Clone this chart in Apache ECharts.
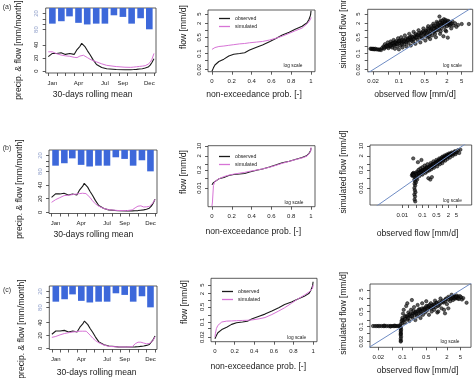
<!DOCTYPE html>
<html><head><meta charset="utf-8">
<script src="https://cdn.jsdelivr.net/npm/echarts@6/dist/echarts.min.js"></script>
<style>html,body{margin:0;padding:0;background:#fff;}#c{width:474px;height:378px;}</style>
</head><body><div id="c"></div>
<script>
// ---------------- data ----------------
const days = [1,15,30,45,60,75,90,100,110,116,122,128,136,145,155,167,185,202,235,265,285,295,305,315,325,335,345,352,358,365];
const obsFlow  = [22,27,27,28,25.5,27,25.5,33,38,42.5,45,37,31,25,17.5,10,5.5,3.5,2.2,2,2,2.2,2.5,3,3.5,4.5,6,9,13,19];
const simFlowA = [29.5,29.5,26.5,24.5,23.3,22.6,21,20.6,23,24.3,24.2,23,20.5,18,16,14,11,8.7,6.8,5.8,5.6,6,6.5,7,7.5,8.2,10.5,13.5,18,27];
const simFlowB = [14.6,18.5,21.5,24.5,25,26,27,27.5,28,27,27.5,26.5,22,17,12.5,9,5.5,3.8,2.6,2.4,3.5,6.5,9,9.5,7.8,8,8.5,10.5,14,19];
const simFlowC = [17,18.5,21,23,24.4,25.4,26.2,26.7,26.7,26.7,26.7,24.5,20.5,16,12,8.5,5,3,2.2,2,2.6,7,9.5,9.5,8.2,7,7.5,8.7,12,18];
const monthMid = [15,46,74,105,135,166,196,227,258,288,319,349];
const precip = [58,49,31,55,61,58,58,27,33,58,38,79];
const monthStart = [1,32,60,91,121,152,182,213,244,274,305,335,365];
const monthLabelDays = [15,105,196,258,349];
const monthLabels = ['Jan','Apr','Jul','Sep','Dec'];
const flowTicks = [0,20,40];
const precipTicks = [20,40,60,80];
const precipLabels = [20,80];

const probs   = [0,0.005,0.015,0.03,0.07,0.12,0.17,0.22,0.28,0.33,0.38,0.45,0.51,0.58,0.65,0.71,0.78,0.84,0.91,0.96,0.98,0.995,1];
const obsFdc  = [0.017,0.019,0.024,0.032,0.045,0.057,0.078,0.093,0.1,0.108,0.14,0.185,0.23,0.32,0.45,0.63,0.82,1.1,1.5,2.1,3.0,4.5,7];
const simFdcA = [0.15,0.155,0.165,0.18,0.2,0.21,0.225,0.24,0.26,0.27,0.29,0.31,0.33,0.38,0.46,0.56,0.74,0.95,1.25,1.9,2.4,3.0,3.6];
const simFdcB = [0.0005,0.001,0.015,0.03,0.045,0.065,0.082,0.098,0.115,0.13,0.155,0.19,0.23,0.3,0.42,0.58,0.8,1.05,1.4,1.9,2.6,4,8];
const simFdcC = [0.02,0.03,0.05,0.07,0.1,0.11,0.112,0.115,0.118,0.12,0.125,0.14,0.16,0.22,0.32,0.45,0.72,1.1,1.7,2.4,2.8,3.5,5];

const ticksA = [0.02,0.05,0.1,0.2,0.5,1,2,5];
const labelsA = [0.02,0.1,0.5,2,5];
const ticksBy = [0.01,0.05,0.2,0.5,2,10];
const labelsBy = [0.01,0.2,2,10];
const ticksBx = [0.01,0.02,0.05,0.1,0.2,0.5,1,2,5];
const labelsBx = [0.01,0.1,0.5,2,5];
const probTicks = [0,0.2,0.4,0.6,0.8,1];

const scatA = [[0.017,0.16],[0.018,0.16],[0.019,0.155],[0.02,0.16],[0.021,0.155],[0.022,0.15],[0.023,0.16],[0.025,0.15],[0.027,0.15],[0.029,0.145],[0.031,0.15],[0.033,0.14],
[0.035,0.17],[0.038,0.2],[0.04,0.16],[0.042,0.25],[0.045,0.19],[0.048,0.22],[0.05,0.3],[0.052,0.17],[0.055,0.24],[0.058,0.2],[0.06,0.33],[0.063,0.27],[0.066,0.18],[0.07,0.22],[0.072,0.38],[0.075,0.3],[0.078,0.16],[0.08,0.25],[0.085,0.34],[0.09,0.2],[0.095,0.45],[0.1,0.28],[0.1,0.15],[0.105,0.36],[0.11,0.22],[0.115,0.5],[0.12,0.3],[0.125,0.18],[0.13,0.4],[0.14,0.25],[0.145,0.6],[0.15,0.33],[0.16,0.2],[0.17,0.45],[0.18,0.28],[0.19,0.7],[0.2,0.38],[0.21,0.22],[0.22,0.55],[0.24,0.32],[0.25,0.85],[0.26,0.45],[0.28,0.26],[0.3,0.62],[0.32,0.38],[0.34,1.0],[0.36,0.5],[0.38,0.3],[0.4,0.75],[0.43,0.45],[0.46,1.2],[0.5,0.6],[0.52,0.36],[0.55,0.9],[0.6,0.5],[0.62,1.5],[0.66,0.75],[0.7,0.42],[0.74,1.1],[0.8,0.6],[0.85,1.9],[0.9,0.85],[0.95,1.3],[1.0,0.5],[1.05,2.3],[1.1,1.0],[1.2,1.6],[1.25,3.9],[1.3,0.7],[1.35,2.6],[1.4,1.2],[1.5,1.9],[1.6,0.55],[1.65,3.0],[1.7,1.4],[1.8,2.2],[1.9,0.9],[2.0,2.6],[2.1,0.48],[2.2,1.7],[2.4,2.1],[2.6,1.2],[2.8,2.4],[3.0,1.6],[3.3,2.0],[3.6,1.4],[4.0,1.7],[5.0,1.86],[7.8,1.86],
[0.045,0.21],[0.055,0.23],[0.065,0.26],[0.075,0.24],[0.085,0.28],[0.095,0.31],[0.11,0.33],[0.12,0.36],[0.135,0.32],[0.15,0.42],[0.17,0.36],[0.19,0.46],[0.21,0.42],[0.23,0.5],[0.27,0.55],[0.29,0.48],[0.33,0.65],[0.37,0.6],[0.42,0.8],[0.47,0.7],[0.53,0.95],[0.58,0.8],[0.65,1.1],[0.72,0.95],[0.78,1.3],[0.88,1.15],[0.98,1.5],[1.08,1.35],[1.15,1.8],[1.3,1.5],[1.45,2.1],[1.6,1.7],[1.75,2.4],[1.95,1.9],[2.3,2.2],[2.5,1.8],
[0.04,0.18],[0.05,0.2],[0.06,0.22],[0.07,0.28],[0.08,0.3],[0.09,0.26],[0.1,0.35],[0.12,0.25],[0.14,0.35],[0.16,0.3],[0.18,0.4],[0.2,0.5],[0.22,0.35],[0.25,0.4],[0.28,0.7],[0.3,0.5],[0.35,0.75],[0.4,0.55],[0.45,0.9],[0.5,0.8],[0.55,0.6],[0.6,1.2],[0.7,0.7],[0.75,1.5],[0.85,0.9],[0.9,1.6],[1.0,1.0],[1.1,2.0],[1.2,1.2],[1.3,2.2],[1.4,1.6],[1.5,2.6],[1.7,1.9],[1.8,2.8],[2.0,1.5],[2.2,2.5],[2.4,1.6],[2.6,2.0],[0.65,0.55],[0.95,0.7],[1.35,0.9],[1.8,1.0]];

const scatB = [[0.04,0.09],[0.042,0.06],[0.04,0.04],[0.043,0.03],[0.041,0.02],[0.044,0.015],[0.04,0.01],[0.042,0.007],[0.045,0.005],[0.04,0.0035],[0.043,0.0025],[0.041,0.0015],[0.044,0.0011],[0.05,0.05],[0.048,0.025],[0.055,0.04],
[0.03,0.08],[0.032,0.1],[0.034,0.07],[0.036,0.12],[0.038,0.09],[0.035,0.11],
[0.035,1.3],[0.06,0.7],[0.09,1.0],[0.2,0.05],[0.25,0.04],[0.3,0.06],
[0.045,0.12],[0.05,0.08],[0.055,0.15],[0.06,0.1],[0.065,0.2],[0.07,0.07],[0.075,0.13],[0.08,0.25],[0.085,0.1],[0.09,0.16],[0.1,0.3],[0.1,0.09],[0.11,0.14],[0.12,0.2],[0.13,0.4],[0.14,0.12],[0.15,0.22],[0.16,0.3],[0.17,0.15],[0.18,0.5],[0.2,0.25],[0.22,0.18],[0.24,0.35],[0.26,0.6],[0.28,0.22],[0.3,0.3],[0.33,0.45],[0.36,0.8],[0.38,0.28],[0.42,0.4],[0.46,0.6],[0.5,1.0],[0.55,0.35],[0.6,0.55],[0.65,0.8],[0.7,1.3],[0.75,0.5],[0.8,0.75],[0.9,1.1],[1.0,1.7],[1.0,0.6],[1.1,0.9],[1.2,1.3],[1.3,2.1],[1.4,0.9],[1.5,1.5],[1.7,2.5],[1.8,1.2],[2.0,1.8],[2.2,3.0],[2.4,1.5],[2.7,2.3],[3.0,3.5],[3.3,2.0],[3.7,2.8],[4.2,4.2],[4.6,2.6],[5.2,3.5],[6.0,5.0],[7.0,3.2],[8.0,5.5],
[0.06,0.12],[0.08,0.14],[0.1,0.17],[0.13,0.22],[0.16,0.24],[0.2,0.3],[0.25,0.4],[0.3,0.45],[0.38,0.5],[0.45,0.65],[0.55,0.75],[0.65,0.95],[0.8,1.1],[1.0,1.2],[1.2,1.6],[1.5,1.9],[1.9,2.3],[2.4,2.6],[3.0,2.8],
[0.05,0.1],[0.07,0.12],[0.09,0.13],[0.11,0.18],[0.12,0.15],[0.14,0.2],[0.17,0.27],[0.19,0.2],[0.22,0.3],[0.27,0.3],[0.32,0.35],[0.35,0.55],[0.4,0.5],[0.5,0.6],[0.6,0.8],[0.7,0.7],[0.85,0.9],[0.9,1.4],[1.1,1.1],[1.3,1.4],[1.6,1.7],[1.8,2.0],[2.1,2.2],[2.6,2.8],[3.3,3.0],[4.0,3.4],[4.8,4.0],[0.033,0.09],[0.037,0.08]];

const scatC = [[0.014,0.105],[0.016,0.105],[0.018,0.105],[0.02,0.105],[0.022,0.105],[0.025,0.105],[0.028,0.105],[0.031,0.105],[0.035,0.105],[0.04,0.105],[0.045,0.105],[0.05,0.105],[0.055,0.105],[0.06,0.105],[0.066,0.105],[0.072,0.105],[0.078,0.105],[0.085,0.105],[0.03,0.11],[0.045,0.1],[0.06,0.11],
[0.09,0.09],[0.09,0.08],[0.092,0.07],[0.09,0.06],[0.091,0.05],[0.09,0.045],[0.09,0.04],[0.092,0.033],[0.09,0.027],[0.091,0.022],[0.09,0.02],
[0.09,0.13],[0.095,0.18],[0.1,0.25],[0.1,0.14],[0.105,0.4],[0.11,0.2],[0.11,0.6],[0.12,0.3],[0.12,0.15],[0.13,0.9],[0.14,0.22],[0.14,1.2],[0.15,0.45],[0.16,0.18],[0.17,0.3],[0.18,0.6],[0.19,1.7],[0.2,0.25],[0.21,0.4],[0.22,0.8],[0.24,0.2],[0.25,0.5],[0.27,0.3],[0.28,1.0],[0.3,0.4],[0.32,0.65],[0.34,0.25],[0.36,0.5],[0.38,1.2],[0.4,0.35],[0.43,0.7],[0.46,0.45],[0.5,1.5],[0.52,0.55],[0.56,0.9],[0.6,0.35],[0.64,0.7],[0.68,1.2],[0.72,0.5],[0.78,1.0],[0.85,0.6],[0.9,1.6],[0.95,0.8],[1.0,1.3],[1.05,0.45],[1.12,0.5],[1.2,1.0],[1.3,2.0],[1.4,0.7],[1.5,1.4],[1.65,0.6],[1.76,0.41],[1.8,1.8],[2.0,1.1],[2.2,0.7],[2.2,2.4],[2.5,1.5],[2.75,3.0],[2.8,2.0],[3.0,1.7],[3.2,2.6],[3.4,2.4],[3.6,2.0],[3.8,2.8],[4.0,2.2],[4.3,2.5],[4.5,1.9],[4.8,2.6],[5.2,2.3],[5.5,1.8],[6.0,2.1],[7.5,1.28],
[0.13,0.3],[0.16,0.35],[0.2,0.4],[0.24,0.45],[0.28,0.5],[0.33,0.55],[0.4,0.6],[0.48,0.75],[0.58,0.8],[0.7,0.9],[0.85,1.1],[1.0,1.2],[1.2,1.4],[1.5,1.6],[1.9,2.0],[2.4,2.2],
[0.1,0.2],[0.12,0.22],[0.14,0.3],[0.15,0.25],[0.17,0.4],[0.19,0.3],[0.21,0.55],[0.23,0.35],[0.26,0.4],[0.3,0.6],[0.35,0.4],[0.38,0.7],[0.45,0.6],[0.5,0.9],[0.55,0.65],[0.62,1.0],[0.7,0.7],[0.8,0.8],[0.9,1.0],[1.1,0.9],[1.3,1.2],[1.6,1.3],[1.8,1.5],[2.2,1.8],[2.6,2.0],[3.0,2.3],[3.3,2.0],[3.7,2.4],[4.2,2.0]];

const oneToOne = [[0.0001,0.0001],[100,100]];

// ---------------- layout / style ----------------
const FONT = '"Liberation Sans", Arial, Helvetica, sans-serif';
const OBS = '#1a1a1a', SIM = '#d774d6', BAR = '#3d68da', PLAB = '#8c9cc8', ONE = '#6f8cc4';
const TICK = 6, TITLE = 8.6;
const rowsCfg = [
  { sim: simFlowA, fdc: simFdcA, scat: scatA,
    L:{left:45.7,top:8,width:110.3,height:65,fmin:-3.1,fmax:96.9,pmax:241},
    M:{left:208,top:10,width:107,height:61.7,ymin:0.0164,ymax:7.5,yt:ticksA,yl:labelsA,leg:11},
    R:{left:367.7,top:9.3,width:105,height:62.4,xmin:0.01435,xmax:9.9,ymin:0.0164,ymax:8.0,xt:ticksA,xl:labelsA,yt:ticksA,yl:labelsA}},
  { sim: simFlowB, fdc: simFdcB, scat: scatB,
    L:{left:49,top:150,width:108,height:63.5,fmin:-1.8,fmax:91.6,pmax:235},
    M:{left:208,top:145.7,width:107,height:61,ymin:0.00046,ymax:10.5,yt:ticksBy,yl:labelsBy,leg:149},
    R:{left:370,top:145,width:101.7,height:60,xmin:0.00024,xmax:29.5,ymin:0.00061,ymax:11.8,xt:ticksBx,xl:labelsBx,yt:ticksBy,yl:labelsBy}},
  { sim: simFlowC, fdc: simFdcC, scat: scatC,
    L:{left:49.3,top:286,width:107.7,height:63.5,fmin:-1.9,fmax:97.3,pmax:235},
    M:{left:211,top:278.3,width:106,height:63.4,ymin:0.0125,ymax:10.1,yt:ticksA,yl:labelsA,leg:284},
    R:{left:370,top:284,width:101,height:63.3,xmin:0.0114,xmax:10.1,ymin:0.0108,ymax:9.5,xt:ticksA,xl:labelsA,yt:ticksA,yl:labelsA}}
];
const titles = [
  {L:[19,50],Lx:[92.7,95],M:[183.3,27],Mx:[254,95],R:[343.3,27],Rx:[415,95],tag:[7,7],tagText:'(a)',logM:[293,66],logR:[452.5,66]},
  {L:[20,189],Lx:[93.3,235],M:[183.3,172],Mx:[253.3,232],R:[343.3,172],Rx:[417.5,233.3],tag:[7,148],tagText:'(b)',logM:[294,203],logR:[452.5,201]},
  {L:[21.7,329],Lx:[96.7,372.7],M:[185,302],Mx:[258.3,366.7],R:[343.3,313.3],Rx:[417.5,370.7],tag:[7,290],tagText:'(c)',logM:[296.7,337.3],logR:[450,341.7]}
];

const fmtNum = v => String(+(+v).toPrecision(3));
const grid = [], xAxis = [], yAxis = [], series = [], legend = [], graphic = [];
const tickStyle = {show:true, inside:false, length:3, lineStyle:{color:'#333', width:0.8}};
function baseAxis(extra){
  return Object.assign({axisLine:{show:false,onZero:false}, splitLine:{show:false}}, extra);
}
function addText(x,y,text,size,rot,color){
  graphic.push({type:'text', x:x, y:y, rotation: rot?Math.PI/2:0,
    style:{text:text, fontSize:size, fontFamily:FONT, fill:color||'#1a1a1a', align:'center', verticalAlign:'middle'}});
}

rowsCfg.forEach((r,ri) => {
  const t = titles[ri];
  // ----- left panel
  const gL = grid.length;
  grid.push({left:r.L.left, top:r.L.top, width:r.L.width, height:r.L.height, show:true, borderColor:'#333', borderWidth:0.8, backgroundColor:'transparent'});
  const xL = xAxis.length;
  xAxis.push(baseAxis({type:'value', gridIndex:gL, position:'bottom', min:-8, max:372,
    axisTick:Object.assign({customValues:monthStart}, tickStyle),
    axisLabel:{customValues:monthLabelDays, fontSize:TICK, fontFamily:FONT, color:'#222', margin:7,
      formatter:v => monthLabels[monthLabelDays.indexOf(Math.round(v))] || ''}}));
  const yF = yAxis.length;
  yAxis.push(baseAxis({type:'value', gridIndex:gL, position:'left', min:r.L.fmin, max:r.L.fmax,
    axisTick:Object.assign({customValues:flowTicks}, tickStyle),
    axisLabel:{customValues:flowTicks, rotate:90, fontSize:TICK, fontFamily:FONT, color:'#222', margin:6}}));
  const yP = yAxis.length;
  yAxis.push(baseAxis({type:'value', gridIndex:gL, position:'left', inverse:true, min:0, max:r.L.pmax,
    axisTick:Object.assign({customValues:precipTicks}, tickStyle),
    axisLabel:{customValues:precipLabels, rotate:90, fontSize:TICK, fontFamily:FONT, color:PLAB, margin:6}}));
  series.push({type:'bar', name:'precip', xAxisIndex:xL, yAxisIndex:yP, barWidth:6.6,
    itemStyle:{color:BAR}, data: monthMid.map((d,i)=>[d, precip[i]]), silent:true});
  series.push({type:'line', name:'observed', xAxisIndex:xL, yAxisIndex:yF, symbol:'none',
    lineStyle:{color:OBS, width:1.1}, itemStyle:{color:OBS}, data: days.map((d,i)=>[d, obsFlow[i]])});
  series.push({type:'line', name:'simulated', xAxisIndex:xL, yAxisIndex:yF, symbol:'none',
    lineStyle:{color:SIM, width:1}, itemStyle:{color:SIM}, data: days.map((d,i)=>[d, r.sim[i]])});

  // ----- middle panel (flow duration curve)
  const gM = grid.length;
  grid.push({left:r.M.left, top:r.M.top, width:r.M.width, height:r.M.height, show:true, borderColor:'#333', borderWidth:0.8, backgroundColor:'transparent'});
  const xM = xAxis.length;
  xAxis.push(baseAxis({type:'value', gridIndex:gM, position:'bottom', min:-0.04, max:1.04,
    axisTick:Object.assign({customValues:probTicks}, tickStyle),
    axisLabel:{customValues:probTicks, fontSize:TICK, fontFamily:FONT, color:'#222', margin:7, formatter:fmtNum}}));
  const yM = yAxis.length;
  yAxis.push(baseAxis({type:'log', gridIndex:gM, position:'left', min:r.M.ymin, max:r.M.ymax,
    axisTick:Object.assign({customValues:r.M.yt}, tickStyle),
    axisLabel:{customValues:r.M.yl, rotate:90, fontSize:TICK, fontFamily:FONT, color:'#222', margin:6, formatter:fmtNum}}));
  series.push({type:'line', name:'observed', xAxisIndex:xM, yAxisIndex:yM, symbol:'none',
    lineStyle:{color:OBS, width:1.1}, itemStyle:{color:OBS}, data: probs.map((p,i)=>[p, obsFdc[i]])});
  series.push({type:'line', name:'simulated', xAxisIndex:xM, yAxisIndex:yM, symbol:'none',
    lineStyle:{color:SIM, width:1}, itemStyle:{color:SIM}, data: probs.map((p,i)=>[p, r.fdc[i]])});
  legend.push({show:true, orient:'vertical', left:r.M.left+6, top:r.M.leg, itemWidth:11, itemHeight:1.3, itemGap:3,
    icon:'rect', selectedMode:false, data:['observed','simulated'],
    textStyle:{fontSize:5.2, fontFamily:FONT, color:'#222', padding:[0,0,0,0]}});

  // ----- right panel (scatter)
  const gR = grid.length;
  grid.push({left:r.R.left, top:r.R.top, width:r.R.width, height:r.R.height, show:true, borderColor:'#333', borderWidth:0.8, backgroundColor:'transparent'});
  const xR = xAxis.length;
  xAxis.push(baseAxis({type:'log', gridIndex:gR, position:'bottom', min:r.R.xmin, max:r.R.xmax,
    axisTick:Object.assign({customValues:r.R.xt}, tickStyle),
    axisLabel:{customValues:r.R.xl, fontSize:TICK, fontFamily:FONT, color:'#222', margin:7, formatter:fmtNum}}));
  const yR = yAxis.length;
  yAxis.push(baseAxis({type:'log', gridIndex:gR, position:'left', min:r.R.ymin, max:r.R.ymax,
    axisTick:Object.assign({customValues:r.R.yt}, tickStyle),
    axisLabel:{customValues:r.R.yl, rotate:90, fontSize:TICK, fontFamily:FONT, color:'#222', margin:6, formatter:fmtNum}}));
  series.push({type:'scatter', name:'obs vs sim', xAxisIndex:xR, yAxisIndex:yR, symbol:'circle', symbolSize:3.4,
    itemStyle:{color:'rgba(20,20,20,0.85)', borderColor:'#000', borderWidth:0.6}, data: r.scat, silent:true});
  series.push({type:'line', name:'1:1', xAxisIndex:xR, yAxisIndex:yR, symbol:'none', clip:true,
    lineStyle:{color:ONE, width:1}, data: oneToOne, silent:true});

  // titles
  addText(t.L[0], t.L[1], 'precip. & flow [mm/month]', TITLE, true);
  addText(t.Lx[0], t.Lx[1], '30-days rolling mean', TITLE, false);
  addText(t.M[0], t.M[1], 'flow [mm/d]', TITLE, true);
  addText(t.Mx[0], t.Mx[1], 'non-exceedance prob. [-]', TITLE, false);
  addText(t.R[0], t.R[1], 'simulated flow [mm/d]', TITLE, true);
  addText(t.Rx[0], t.Rx[1], 'observed flow [mm/d]', TITLE, false);
  addText(t.tag[0], t.tag[1], t.tagText, 7, false, '#333');
  addText(t.logM[0], t.logM[1], 'log scale', 4.8, false, '#222');
  addText(t.logR[0], t.logR[1], 'log scale', 4.8, false, '#222');
});

const chart = echarts.init(document.getElementById('c'), null, {renderer:'canvas'});
chart.setOption({animation:false, backgroundColor:'#fff', grid, xAxis, yAxis, series, legend, graphic});
</script></body></html>
